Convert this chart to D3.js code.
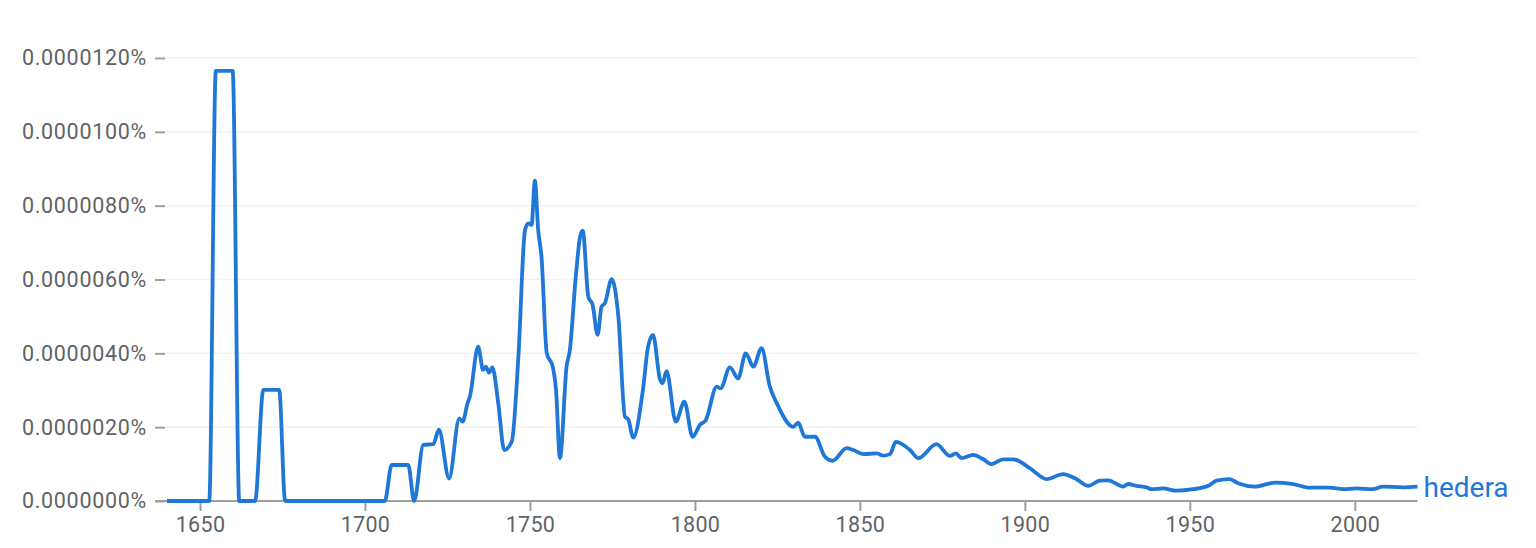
<!DOCTYPE html>
<html>
<head>
<meta charset="utf-8">
<script src="https://cdn.jsdelivr.net/npm/d3@7"></script>
<style>
  html, body { margin: 0; padding: 0; background: #fff; }
  svg { display: block; font-family: Roboto, "Noto Sans", sans-serif; }
</style>
</head>
<body>
<svg id="chart" width="1536" height="548"></svg>
<script>
// ---- data (values in percent) ----
const seriesName = "hedera";
const years = [
  1640, 1652.8, 1654.8, 1659.9, 1661.9, 1666.7, 1669.2, 1674, 1675.8,
  1706, 1708.1, 1713.1, 1714.9, 1717.7, 1720.7, 1722.4, 1725.5, 1728.6, 1729.6,
  1731.1, 1731.8, 1734.3, 1735.8, 1736.6, 1737.6, 1738.6, 1740.4, 1742.2, 1744.5,
  1746.5, 1748.5, 1749.5, 1750.5, 1751.5, 1752.5, 1753.5, 1755.1, 1756.9, 1757.9,
  1759.1, 1761.1, 1762.1, 1763.9, 1765.2, 1766, 1767.7, 1769, 1770.5, 1771.7,
  1772.7, 1774.8, 1776.8, 1778.8, 1779.8, 1781.3, 1784.3, 1785.8, 1787.3, 1789.4,
  1790.2, 1791.4, 1794.2, 1796.8, 1799.3, 1801.5, 1803.3, 1806.6, 1807.8, 1810.6,
  1813.1, 1815.4, 1817.7, 1820.2, 1822.7, 1824.8, 1829.8, 1831.3, 1833.3, 1836.4,
  1839.4, 1841.7, 1846, 1848, 1851, 1855.1, 1857.1, 1859.1, 1860.9, 1865.2,
  1867.7, 1873.2, 1877.3, 1879.1, 1880.8, 1884.3, 1887.4, 1889.9, 1893.4, 1896.5,
  1901.5, 1906.6, 1911.6, 1915.7, 1919.2, 1922.7, 1925.2, 1929.8, 1931.3, 1933.8,
  1936.9, 1938.4, 1941.9, 1945.9, 1951, 1955.6, 1958.1, 1962.1, 1964.6, 1969.7,
  1975.8, 1981.3, 1986.4, 1992.4, 1996.5, 2000.5, 2005.5, 2008.5, 2014.6, 2019
];
// values in units of 1e-7 percent
const valuesE7 = [
  0, 0, 116.5, 116.5, 0, 0, 30.1, 30.1, 0,
  0, 9.75, 9.75, 0, 15.2, 15.4, 19.3, 6.1, 22.4, 21.5,
  26.5, 28.3, 41.8, 35.5, 36.4, 34.8, 36.2, 26.5, 13.8, 16.1,
  39.1, 73.4, 75.2, 74.8, 86.8, 73.4, 66.2, 40, 36.4, 30.1,
  11.6, 36.4, 40.9, 60.8, 71.6, 73.2, 55.3, 53.1, 45, 52.6,
  53.6, 60.1, 49.9, 22.8, 22.1, 17.2, 30.5, 41.8, 45, 33,
  31.9, 35.2, 21.5, 26.9, 17.4, 20.6, 21.9, 31, 30.5, 36.2,
  33.2, 40, 36.4, 41.4, 31, 26.5, 20.1, 21.2, 17.4, 17.4,
  12, 10.9, 14.3, 13.8, 12.7, 12.9, 12.3, 12.7, 16, 13.8,
  11.6, 15.4, 12.2, 12.9, 11.6, 12.5, 11.3, 10, 11.3, 11.3,
  8.9, 5.9, 7.3, 5.9, 4.1, 5.5, 5.6, 3.9, 4.6, 4.1,
  3.7, 3.2, 3.4, 2.8, 3.2, 4.1, 5.5, 5.9, 4.8, 3.9,
  5, 4.6, 3.6, 3.6, 3.2, 3.4, 3.2, 3.9, 3.7, 3.9
];
const xTicks = [1650, 1700, 1750, 1800, 1850, 1900, 1950, 2000];
const yTicks = [0, 0.000002, 0.000004, 0.000006, 0.000008, 0.00001, 0.000012];
const xDomain = [1640, 2019];
const yDomain = [0, 0.000012];

const data = years.map((yr, i) => ({ year: yr, value: valuesE7[i] * 1e-7 }));

// ---- layout ----
const svg = d3.select("#chart");
const plotLeft = 167, plotRight = 1417.5, plotTop = 58, plotBottom = 501;

const x = d3.scaleLinear().domain(xDomain).range([plotLeft, plotRight]);
const y = d3.scaleLinear().domain(yDomain).range([plotBottom, plotTop]);

const textColor = "#5f6368";
const axisColor = "#9e9e9e";
const lineColor = "#1f77d8";

// gridlines
svg.append("g")
  .selectAll("line")
  .data(yTicks.slice(1))
  .join("line")
  .attr("x1", plotLeft - 2).attr("x2", plotRight)
  .attr("y1", d => y(d)).attr("y2", d => y(d))
  .attr("stroke", "#f1f1f1").attr("stroke-width", 1.5);

// y axis
const yAxis = d3.axisLeft(y)
  .tickValues(yTicks)
  .tickFormat(d => d3.format(".7f")(d) + "%")
  .tickSize(10)
  .tickPadding(8);
const gy = svg.append("g").attr("transform", `translate(${plotLeft - 2},0)`).call(yAxis);
gy.select(".domain").remove();
gy.selectAll(".tick line").attr("stroke", axisColor).attr("stroke-width", 2);
gy.selectAll(".tick text").attr("fill", textColor).style("font-size", "21.5px")
  .style("letter-spacing", "0.7px")
  .style("font-family", "Roboto, sans-serif");

// x axis
const xAxis = d3.axisBottom(x)
  .tickValues(xTicks)
  .tickFormat(d3.format("d"))
  .tickSize(10)
  .tickPadding(6);
const gx = svg.append("g").attr("transform", `translate(0,${plotBottom})`).call(xAxis);
gx.select(".domain").remove();
gx.selectAll(".tick line").attr("stroke", axisColor).attr("stroke-width", 2);
gx.selectAll(".tick text").attr("fill", textColor).style("font-size", "21.5px")
  .style("letter-spacing", "0.3px")
  .style("font-family", "Roboto, sans-serif");

// baseline
svg.append("line")
  .attr("x1", plotLeft - 12).attr("x2", plotRight)
  .attr("y1", plotBottom).attr("y2", plotBottom)
  .attr("stroke", axisColor).attr("stroke-width", 2);

// series line
const line = d3.line()
  .x(d => x(d.year))
  .y(d => y(d.value))
  .curve(d3.curveMonotoneX);

svg.append("path")
  .datum(data)
  .attr("d", line)
  .attr("fill", "none")
  .attr("stroke", lineColor)
  .attr("stroke-width", 3.8)
  .attr("stroke-linejoin", "round");

// series label
const last = data[data.length - 1];
svg.append("text")
  .attr("x", x(last.year) + 6)
  .attr("y", y(last.value) + 10)
  .attr("fill", lineColor)
  .style("font-size", "28px")
  .style("font-family", "Roboto, sans-serif")
  .text(seriesName);
</script>
</body>
</html>
